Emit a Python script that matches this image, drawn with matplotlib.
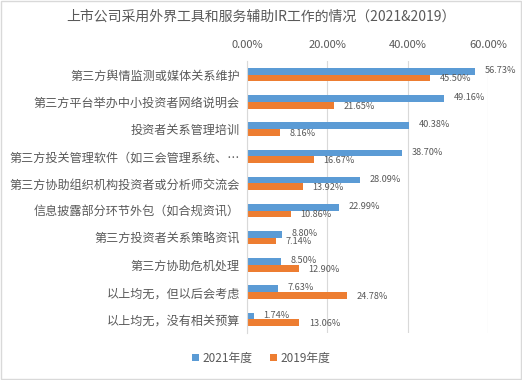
import matplotlib
matplotlib.use("Agg")
import matplotlib.pyplot as plt
import numpy as np

plt.rcParams['font.family'] = ['Noto Sans CJK SC', 'DejaVu Sans']

# categories, top to bottom
categories = [
    "第三方舆情监测或媒体关系维护",
    "第三方平台举办中小投资者网络说明会",
    "投资者关系管理培训",
    "第三方投关管理软件（如三会管理系统、…",
    "第三方协助组织机构投资者或分析师交流会",
    "信息披露部分环节外包（如合规资讯）",
    "第三方投资者关系策略资讯",
    "第三方协助危机处理",
    "以上均无，但以后会考虑",
    "以上均无，没有相关预算",
]
y2021 = [56.73, 49.16, 40.38, 38.70, 28.09, 22.99, 8.80, 8.50, 7.63, 1.74]
y2019 = [45.50, 21.65, 8.16, 16.67, 13.92, 10.86, 7.14, 12.90, 24.78, 13.06]
xticks = [0, 20, 40, 60]

blue = "#5b9bd5"
orange = "#ed7d31"
txt = "#595959"

fig = plt.figure(figsize=(5.22, 3.8), dpi=100)
ax = fig.add_axes([0.473, 0.124, 0.462, 0.715])

pos = np.arange(len(categories))
h = 0.245
b1 = ax.barh(pos - h / 2, y2021, height=h, color=blue, label="2021年度")
b2 = ax.barh(pos + h / 2, y2019, height=h, color=orange, label="2019年度")

for bars, vals, dy in ((b1, y2021, 0.6), (b2, y2019, -0.6)):
    for bar, v in zip(bars, vals):
        ax.annotate(f"{v:.2f}%", (v, bar.get_y() + bar.get_height() / 2),
                    xytext=(7, dy), textcoords="offset points",
                    va="center", ha="left", fontsize=6.6, color=txt)

ax.set_ylim(len(categories) - 0.5, -0.5)
ax.set_xlim(0, 60)
ax.set_xticks(xticks)
ax.set_xticklabels([f"{t:.2f}%" for t in xticks], fontsize=8, color=txt)
ax.xaxis.tick_top()
ax.set_yticks(pos)
ax.set_yticklabels(categories, fontsize=8.7, color=txt)
ax.tick_params(length=0, pad=5)
ax.tick_params(axis="x", pad=8)
ax.grid(axis="x", color="#d9d9d9", linewidth=0.8)
ax.set_axisbelow(True)
for s in ["top", "right", "bottom"]:
    ax.spines[s].set_visible(False)
ax.spines["left"].set_color("#d9d9d9")

fig.suptitle("上市公司采用外界工具和服务辅助IR工作的情况（2021&2019）",
             x=0.5, y=0.975, fontsize=10, color=txt)

fig.legend(handles=[b1, b2], loc="center", bbox_to_anchor=(0.5, 0.058),
           ncol=2, frameon=False, fontsize=8.5, labelcolor=txt,
           handlelength=0.6, handleheight=0.6, handletextpad=0.3,
           columnspacing=1.5)

fig.patches.append(plt.Rectangle((0.002, 0.002), 0.996, 0.996,
                                 transform=fig.transFigure, fill=False,
                                 edgecolor="#d9d9d9", linewidth=1))

fig.savefig("out.png", dpi=100)
